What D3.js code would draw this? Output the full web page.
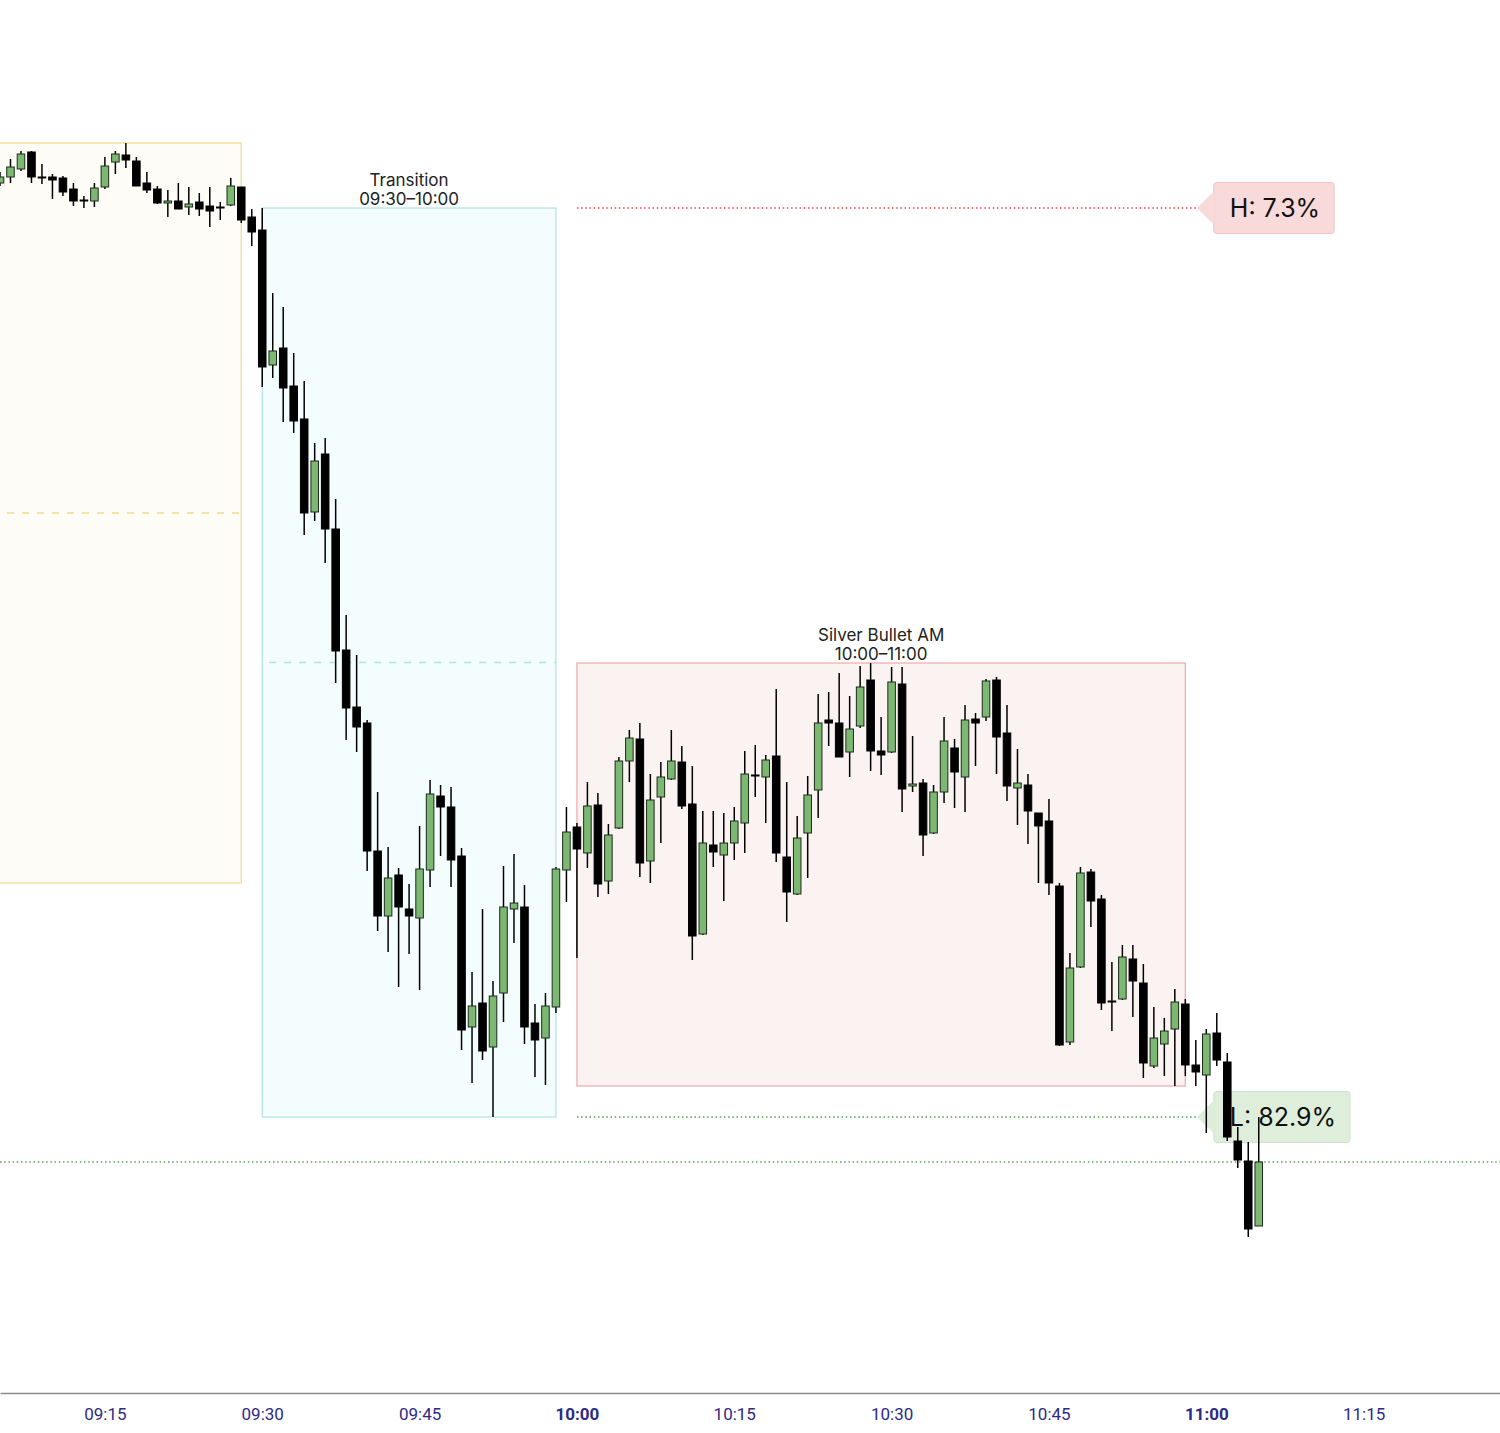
<!doctype html>
<html lang="en">
  <head>
    <meta charset="utf-8">
    <script src="https://d3js.org/d3.v7.min.js"></script>
    <title>Session chart</title>
    <style>
      html, body { margin: 0; padding: 0; background: #fff; }
      svg { display: block; }
      .session-label { font-family: Inter, "Noto Sans", sans-serif; font-size: 17px; fill: #222; text-anchor: middle; }
      .level-label { font-family: Inter, "Noto Sans", sans-serif; font-size: 25px; fill: #111; }
      .axis text { font-family: Roboto, "Noto Sans", sans-serif; font-size: 17px; fill: #2e2a86; }
    </style>
  </head>
  <body>
    <svg id="chart" width="1500" height="1433"></svg>

    <script>
      // one candle per minute, first one at 09:05
      const firstCandle = "09:05";

      const opens = [
        5981.7, 5982.3, 5983.1, 5984.8, 5982.3, 5982.3, 5982.2, 5981.1, 5980.0, 5979.9,
        5981.3, 5983.8, 5984.5, 5983.9, 5981.7, 5981.1, 5979.7, 5979.9, 5979.3, 5979.8,
        5979.4, 5979.3, 5979.5, 5981.3, 5978.3, 5977.0, 5963.5, 5965.2, 5961.4, 5958.1,
        5948.8, 5954.6, 5947.1, 5935.0, 5929.3, 5927.7, 5914.9, 5908.4, 5912.5, 5909.1,
        5908.2, 5913.0, 5920.4, 5919.3, 5914.4, 5897.3, 5899.7, 5895.3, 5900.7, 5909.1,
        5909.3, 5897.7, 5896.2, 5899.3, 5913.0, 5917.3, 5914.7, 5919.5, 5911.9, 5917.2,
        5923.9, 5926.1, 5913.9, 5920.3, 5922.1, 5923.8, 5919.6, 5906.6, 5915.5, 5914.5,
        5915.7, 5917.7, 5922.5, 5922.3, 5924.4, 5914.3, 5910.6, 5916.7, 5921.0, 5928.0,
        5927.7, 5924.8, 5927.4, 5932.0, 5924.9, 5924.8, 5931.6, 5921.4, 5921.7, 5916.7,
        5920.8, 5925.2, 5922.3, 5928.1, 5928.3, 5932.0, 5926.7, 5921.2, 5921.5, 5918.7,
        5917.9, 5911.4, 5895.8, 5903.3, 5912.8, 5910.1, 5899.9, 5900.1, 5904.1, 5901.7,
        5893.4, 5895.6, 5897.1, 5899.6, 5893.5, 5892.5, 5896.7, 5893.8, 5885.9, 5883.9,
        5877.4
      ];

      const highs = [
        5982.8, 5984.1, 5984.9, 5984.9, 5983.6, 5982.6, 5982.4, 5981.7, 5980.4, 5981.7,
        5984.3, 5984.9, 5985.7, 5984.3, 5982.8, 5981.4, 5981.0, 5981.7, 5981.3, 5980.7,
        5981.3, 5979.8, 5982.2, 5981.3, 5979.1, 5979.2, 5970.7, 5969.3, 5964.7, 5961.9,
        5955.7, 5956.2, 5950.1, 5938.5, 5934.5, 5928.0, 5920.8, 5915.3, 5913.2, 5911.6,
        5917.4, 5922.0, 5921.5, 5921.3, 5915.2, 5902.8, 5909.1, 5901.9, 5913.4, 5914.6,
        5911.5, 5899.6, 5900.7, 5913.3, 5919.3, 5917.7, 5921.8, 5920.7, 5917.6, 5924.3,
        5927.0, 5927.7, 5922.6, 5923.8, 5927.0, 5925.4, 5923.4, 5918.9, 5918.9, 5918.7,
        5919.3, 5924.9, 5925.5, 5924.5, 5931.1, 5921.8, 5918.4, 5922.4, 5930.6, 5930.8,
        5932.7, 5930.4, 5933.4, 5933.7, 5928.3, 5933.3, 5933.3, 5926.4, 5922.1, 5921.5,
        5928.3, 5926.1, 5929.5, 5928.7, 5932.1, 5932.3, 5929.5, 5925.1, 5922.6, 5918.7,
        5920.1, 5911.7, 5904.7, 5913.3, 5913.1, 5910.5, 5903.8, 5905.5, 5905.5, 5903.6,
        5899.3, 5898.2, 5901.1, 5900.1, 5896.0, 5897.1, 5898.7, 5894.7, 5887.3, 5885.8,
        5888.3
      ];

      const lows = [
        5981.4, 5981.7, 5982.9, 5981.7, 5981.6, 5980.1, 5980.4, 5979.4, 5979.2, 5979.3,
        5981.1, 5982.6, 5983.2, 5981.4, 5980.7, 5979.6, 5978.3, 5979.1, 5978.5, 5978.4,
        5977.3, 5978.0, 5979.4, 5977.7, 5975.4, 5961.3, 5962.2, 5957.8, 5956.7, 5946.5,
        5947.9, 5943.7, 5931.7, 5926.0, 5924.8, 5912.9, 5906.9, 5904.8, 5901.3, 5904.6,
        5901.0, 5911.3, 5914.4, 5911.3, 5895.0, 5891.7, 5894.0, 5888.3, 5897.8, 5905.7,
        5895.6, 5892.3, 5891.5, 5898.7, 5909.8, 5904.2, 5913.2, 5910.3, 5910.6, 5917.1,
        5921.8, 5912.3, 5911.7, 5915.7, 5922.0, 5919.1, 5904.0, 5906.5, 5913.3, 5909.9,
        5914.0, 5914.7, 5920.3, 5917.7, 5913.8, 5907.8, 5910.5, 5912.2, 5918.2, 5925.4,
        5924.3, 5922.3, 5927.2, 5922.9, 5922.5, 5924.7, 5918.8, 5920.8, 5914.4, 5916.6,
        5919.7, 5919.2, 5918.8, 5923.4, 5927.9, 5922.6, 5919.9, 5917.5, 5915.6, 5911.7,
        5910.5, 5895.4, 5895.5, 5903.2, 5907.3, 5899.0, 5896.9, 5900.0, 5898.3, 5892.2,
        5893.2, 5892.4, 5891.4, 5892.4, 5891.4, 5886.7, 5893.4, 5885.9, 5883.2, 5876.3,
        5877.4
      ];

      const closes = [
        5982.3, 5983.3, 5984.6, 5982.3, 5982.2, 5982.0, 5980.8, 5979.9, 5979.9, 5981.2,
        5983.4, 5984.6, 5984.0, 5981.4, 5981.0, 5979.7, 5979.9, 5979.1, 5979.6, 5979.1,
        5978.9, 5979.3, 5981.4, 5978.0, 5976.8, 5963.3, 5964.9, 5961.2, 5957.9, 5948.7,
        5953.9, 5947.1, 5934.9, 5929.2, 5927.3, 5914.9, 5908.4, 5912.2, 5909.3, 5908.4,
        5913.1, 5920.6, 5919.3, 5914.0, 5897.0, 5899.4, 5894.9, 5900.4, 5909.3, 5909.7,
        5897.3, 5896.0, 5899.4, 5913.1, 5916.8, 5915.1, 5919.4, 5911.6, 5916.5, 5923.9,
        5926.2, 5913.7, 5920.0, 5922.3, 5923.9, 5919.4, 5906.4, 5915.7, 5914.8, 5915.7,
        5917.9, 5922.6, 5922.5, 5924.0, 5914.7, 5910.8, 5916.2, 5920.5, 5927.7, 5927.7,
        5924.3, 5927.1, 5931.3, 5924.9, 5924.5, 5931.8, 5921.1, 5921.6, 5916.5, 5920.8,
        5925.9, 5922.8, 5928.0, 5927.7, 5931.9, 5926.3, 5921.4, 5921.7, 5918.9, 5917.4,
        5911.7, 5895.5, 5903.2, 5912.7, 5909.9, 5899.7, 5899.9, 5904.3, 5901.9, 5893.7,
        5896.2, 5896.9, 5899.8, 5893.5, 5892.8, 5896.6, 5894.0, 5886.3, 5884.0, 5877.1,
        5883.8
      ];

      const sessionNames  = ["", "Transition", "Silver Bullet AM"];
      const sessionStarts = ["08:00", "09:30", "10:00"];
      const sessionEnds   = ["09:30", "10:00", "11:00"];
      const earlyRange    = [5985.7, 5911.7];
      const sessionFills  = ["#fefcf6", "#f3fdfd", "#faf3f2"];
      const sessionStroke = ["#f3d98c", "#ade3e9", "#eeaaaa"];
      const sessionMid    = [true, true, false];

      // projected levels from the Transition range
      const levelLabels = ["H: 7.3%", "L: 82.9%"];
      const levelFrom = "10:00";
      const levelTo = "10:59";

      const width = 1500;
      const height = 1433;
      const axisY = 1393;

      const parseTime = d3.timeParse("%H:%M");
      const fmt = d3.timeFormat("%H:%M");

      const t0 = parseTime(firstCandle);
      const candles = opens.map((o, i) => ({
        time: d3.timeMinute.offset(t0, i),
        open: o, high: highs[i], low: lows[i], close: closes[i]
      }));

      const x = d3.scaleTime()
        .domain([parseTime("09:05"), parseTime("11:28")])
        .range([0, width]);

      const y = d3.scaleLinear()
        .domain([5990, 5870])
        .range([100, 1300]);

      const svg = d3.select("#chart");
      const minW = x(parseTime("09:31")) - x(parseTime("09:30"));

      // session boxes
      const sessions = sessionNames.map((name, i) => {
        const start = parseTime(sessionStarts[i]);
        const end = parseTime(sessionEnds[i]);
        const inside = candles.filter(c => c.time >= start && c.time < end);
        const hi = i === 0 ? earlyRange[0] : d3.max(inside, c => c.high);
        const lo = i === 0 ? earlyRange[1] : d3.min(inside, c => c.low);
        return { name, start, end, hi, lo, label: sessionStarts[i] + "–" + sessionEnds[i],
                 fill: sessionFills[i], stroke: sessionStroke[i], mid: sessionMid[i] };
      });

      const boxG = svg.append("g");
      sessions.forEach(s => {
        const x0 = x(s.start);
        const x1 = x(d3.timeMinute.offset(s.end, -2));
        boxG.append("rect")
          .attr("x", x0)
          .attr("y", y(s.hi))
          .attr("width", x1 - x0)
          .attr("height", y(s.lo) - y(s.hi))
          .attr("fill", s.fill)
          .attr("stroke", s.stroke)
          .attr("stroke-width", 1.2);

        if (s.mid) {
          boxG.append("line")
            .attr("x1", Math.max(x0, 0) + 7)
            .attr("x2", x1)
            .attr("y1", y((s.hi + s.lo) / 2))
            .attr("y2", y((s.hi + s.lo) / 2))
            .attr("stroke", s.stroke)
            .attr("stroke-width", 1.5)
            .attr("stroke-dasharray", "7,8");
        }

        if (s.name) {
          const cx = (x0 + x1) / 2;
          boxG.append("text").attr("class", "session-label")
            .attr("x", cx).attr("y", y(s.hi) - 22).text(s.name);
          boxG.append("text").attr("class", "session-label")
            .attr("x", cx).attr("y", y(s.hi) - 3).text(s.label);
        }
      });

      // H / L levels of the Transition session
      const trans = sessions[1];
      const levels = [
        { value: trans.hi, text: levelLabels[0], line: "#e64545", fill: "#f9dada", edge: "#f3c4c4" },
        { value: trans.lo, text: levelLabels[1], line: "#4f9f4a", fill: "#deeedb", edge: "#cde3c9" }
      ];
      const lx0 = x(parseTime(levelFrom));
      const lx1 = x(parseTime(levelTo));

      const levelG = svg.append("g");
      levels.forEach(l => {
        const ly = y(l.value);
        levelG.append("line")
          .attr("x1", lx0).attr("x2", lx1)
          .attr("y1", ly).attr("y2", ly)
          .attr("stroke", l.line)
          .attr("stroke-width", 1.3)
          .attr("stroke-dasharray", "1.5,2.7");

        const bx = lx1 + 18;
        const g = levelG.append("g");
        const rect = g.append("rect");
        const tri = g.append("path");
        const txt = g.append("text").attr("class", "level-label")
          .attr("x", bx + 16).attr("y", ly + 9).text(l.text);
        const tw = txt.node().getComputedTextLength();
        rect.attr("x", bx).attr("y", ly - 25.5)
          .attr("width", tw + 30).attr("height", 51)
          .attr("rx", 3)
          .attr("fill", l.fill)
          .attr("stroke", l.edge);
        tri.attr("d", `M${lx1 + 1},${ly} L${bx + 0.5},${ly - 17} L${bx + 0.5},${ly + 17} Z`)
          .attr("fill", l.fill);
        txt.raise();
      });

      // last price line
      const last = candles[candles.length - 1];
      svg.append("line")
        .attr("x1", 0).attr("x2", width)
        .attr("y1", y(last.close)).attr("y2", y(last.close))
        .attr("stroke", "#5fa35a")
        .attr("stroke-width", 1.3)
        .attr("stroke-dasharray", "1.5,2.7");

      // candles
      const bodyW = minW * 0.72;
      const candleG = svg.append("g")
        .selectAll("g")
        .data(candles)
        .enter().append("g");

      candleG.append("line")
        .attr("x1", d => x(d.time)).attr("x2", d => x(d.time))
        .attr("y1", d => y(d.high)).attr("y2", d => y(d.low))
        .attr("stroke", "#000")
        .attr("stroke-width", 1.5);

      candleG.append("rect")
        .attr("x", d => x(d.time) - bodyW / 2)
        .attr("y", d => y(Math.max(d.open, d.close)))
        .attr("width", bodyW)
        .attr("height", d => Math.max(1, Math.abs(y(d.open) - y(d.close))))
        .attr("fill", d => d.close > d.open ? "#7cb872" : "#000")
        .attr("stroke", d => d.close > d.open ? "#1c2a1a" : "#000")
        .attr("stroke-width", 1);

      // time axis
      const axis = d3.axisBottom(x)
        .ticks(d3.timeMinute.every(15))
        .tickFormat(fmt)
        .tickSize(0)
        .tickSizeOuter(0)
        .tickPadding(15);

      const axisG = svg.append("g")
        .attr("class", "axis")
        .attr("transform", `translate(0,${axisY})`)
        .call(axis);

      axisG.select(".domain")
        .attr("stroke", "#8c8c8c")
        .attr("stroke-width", 1.5);

      axisG.selectAll(".tick text")
        .style("font-weight", d => d.getMinutes() === 0 ? "bold" : "normal");
    </script>
  </body>
</html>
